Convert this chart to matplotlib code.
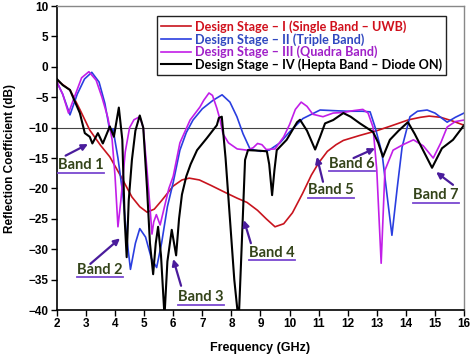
import matplotlib
matplotlib.use("Agg")
import matplotlib.pyplot as plt
from matplotlib.lines import Line2D

# Stage I - single band UWB (red)
f_red = [2.0, 2.45, 2.8, 3.13, 3.5, 3.82, 4.2, 4.58, 4.85, 5.1, 5.35, 5.6, 6.0, 6.3, 6.55,
         6.9, 7.3, 7.85, 8.2, 8.54, 8.9, 9.2, 9.5, 9.8, 10.1, 10.45, 10.75, 11.0, 11.3, 11.6,
         11.85, 12.4, 13.0, 13.5, 14.1, 14.5, 14.8, 15.2, 15.6, 16.0]
s_red = [-2.2, -3.8, -7.1, -10.4, -12.9, -14.8, -18.0, -21.4, -23.0, -23.9, -23.4, -22.0, -19.6, -18.6, -18.3,
         -18.6, -19.5, -20.8, -21.6, -22.3, -23.6, -25.0, -26.3, -25.8, -24.0, -20.8, -17.8, -15.8, -13.9, -12.8,
         -12.1, -11.3, -10.5, -9.7, -8.7, -8.3, -8.1, -8.3, -8.9, -9.6]

# Stage II - triple band (blue)
f_blue = [2.0, 2.2, 2.45, 2.7, 2.95, 3.2, 3.45, 3.65, 3.8, 3.87, 3.93, 4.1, 4.27, 4.4, 4.53,
          4.7, 4.85, 5.05, 5.25, 5.43, 5.6, 5.8, 6.0, 6.23, 6.45, 6.68, 7.0, 7.37, 7.68, 7.95,
          8.19, 8.4, 8.64, 9.0, 9.3, 9.67, 10.0, 10.46, 11.05, 11.5, 11.98, 12.5, 12.77, 12.94, 13.18,
          13.35, 13.52, 13.7, 13.87, 14.14, 14.4, 14.73, 15.0, 15.42, 15.7, 16.0]
s_blue = [-2.5, -4.5, -7.9, -4.5, -2.0, -0.9, -2.5, -6.0, -10.0, -10.6, -10.2, -15.0, -21.0, -28.0, -33.3,
          -29.0, -26.6, -28.0, -31.5, -33.0, -29.0, -23.0, -19.0, -13.7, -10.8, -8.75, -6.9, -5.5, -4.6, -5.8,
          -8.2, -11.0, -13.5, -13.9, -13.7, -12.5, -10.7, -8.5, -7.1, -7.2, -7.3, -7.3, -7.4, -9.9, -14.2,
          -21.0, -27.7, -20.0, -13.2, -8.2, -7.3, -7.1, -7.6, -9.1, -8.3, -7.6]

# Stage III - quadra band (magenta)
f_mag = [2.0, 2.2, 2.4, 2.6, 2.85, 3.1, 3.35, 3.55, 3.75, 3.9, 4.0, 4.1, 4.2, 4.35, 4.5,
         4.65, 4.85, 4.97, 5.1, 5.2, 5.27, 5.33, 5.42, 5.55, 5.7, 5.85, 6.0, 6.23, 6.58, 6.92,
         7.05, 7.23, 7.35, 7.5, 7.6, 7.71, 7.9, 8.2, 8.54, 8.75, 8.9, 9.05, 9.2, 9.5, 9.8,
         10.0, 10.2, 10.4, 10.6, 10.8, 11.15, 11.5, 11.85, 12.2, 12.52, 12.7, 12.87, 13.0, 13.15, 13.28,
         13.56, 13.9, 14.26, 14.6, 14.94, 15.2, 15.42, 15.7, 16.0]
s_mag = [-2.5, -4.5, -7.6, -5.0, -1.8, -0.8, -2.2, -5.0, -8.3, -12.0, -18.0, -26.3, -22.0, -14.0, -10.0,
         -8.7, -8.2, -10.0, -17.0, -23.0, -27.5, -25.5, -24.3, -26.0, -23.0, -20.0, -18.0, -12.5, -8.75, -6.6,
         -5.5, -4.3, -4.7, -6.8, -8.5, -11.0, -12.5, -13.5, -13.7, -13.3, -12.6, -12.8, -13.6, -13.5, -11.5,
         -9.5, -7.0, -5.8, -6.5, -7.8, -8.2, -7.6, -7.5, -7.2, -7.0, -7.6, -9.9, -17.0, -32.3, -17.0,
         -13.7, -12.8, -12.0, -13.0, -15.0, -12.5, -9.9, -9.0, -8.75]

# Stage IV - hepta band, diode ON (black)
f_blk = [2.0, 2.2, 2.45, 2.6, 2.79, 2.96, 3.13, 3.22, 3.41, 3.58, 3.82, 3.96, 4.13, 4.25, 4.33,
         4.4, 4.47, 4.58, 4.7, 4.85, 4.97, 5.1, 5.2, 5.31, 5.4, 5.48, 5.58, 5.7, 5.8, 5.95,
         6.1, 6.2, 6.3, 6.45, 6.6, 6.82, 7.16, 7.5, 7.57, 7.67, 7.8, 7.95, 8.1, 8.25, 8.35,
         8.47, 8.57, 9.0, 9.22, 9.3, 9.4, 9.48, 9.56, 9.9, 10.26, 10.36, 10.6, 10.88, 11.05, 11.22,
         11.5, 11.85, 12.1, 12.42, 12.87, 13.05, 13.21, 13.45, 13.75, 14.07, 14.3, 14.59, 14.9, 15.24, 15.62,
         16.0]
s_blk = [-2.0, -3.0, -3.8, -5.5, -7.6, -10.9, -11.5, -12.6, -10.9, -12.6, -9.8, -11.5, -6.7, -12.0, -25.0,
         -31.3, -22.0, -15.3, -10.5, -8.0, -10.0, -20.0, -29.0, -34.1, -29.0, -26.3, -31.0, -41.0, -32.0, -26.8,
         -31.0, -25.0, -21.0, -18.0, -16.0, -13.7, -11.7, -9.6, -8.4, -8.2, -15.0, -25.0, -35.0, -42.0, -30.0,
         -15.3, -13.7, -13.8, -13.9, -16.0, -21.1, -17.0, -13.7, -12.0, -9.1, -8.7, -10.5, -13.6, -11.5, -9.3,
         -8.75, -7.6, -8.2, -9.3, -10.7, -12.5, -14.8, -12.0, -10.5, -9.1, -11.0, -13.7, -16.6, -13.4, -12.0,
         -9.6]

labels = ["Design Stage \u2013 I (Single Band \u2013 UWB)",
          "Design Stage \u2013 II (Triple Band)",
          "Design Stage \u2013 III (Quadra Band)",
          "Design Stage \u2013 IV (Hepta Band \u2013 Diode ON)"]
colors = ["#c8141e", "#2a3ee0", "#c21ee8", "#000000"]
text_colors = ["#d0101c", "#3048c0", "#a020c8", "#000000"]

# band labels: text position, arrow tail, arrow tip
band_names = ["Band 1", "Band 2", "Band 3", "Band 4", "Band 5", "Band 6", "Band 7"]
band_text_xy = [(2.84, -16.2), (3.48, -33.4), (6.95, -37.9), (9.4, -30.6),
                (11.43, -20.3), (12.15, -15.9), (15.04, -21.1)]
band_tail_xy = [(2.3, -14.6), (3.15, -32.4), (6.27, -36.0), (8.67, -29.0),
                (11.15, -18.9), (12.2, -15.0), (15.62, -19.4)]
band_tip_xy = [(3.07, -12.7), (4.17, -28.2), (6.0, -31.6), (8.43, -25.2),
               (10.94, -14.8), (12.94, -13.4), (15.04, -17.3)]

fig = plt.figure(figsize=(4.74, 3.54), dpi=100)
ax = fig.add_axes([0.120, 0.124, 0.859, 0.859])

series = [(f_red, s_red), (f_blue, s_blue), (f_mag, s_mag), (f_blk, s_blk)]
for (f, s), c, lab in zip(series, colors, labels):
    lw = 1.5 if c == "#000000" else 1.2
    ax.plot(f, s, color=c, lw=lw, label=lab)

ax.axhline(-10, color="#444444", lw=0.8, zorder=0)

ax.set_xlim(2, 16)
ax.set_ylim(-40, 10)
ax.set_xticks(range(2, 17))
ax.set_yticks(range(-40, 11, 5))
ax.tick_params(direction="out", length=4, width=1, labelsize=8.5, pad=2)
for t in ax.get_xticklabels() + ax.get_yticklabels():
    t.set_fontweight("bold")
    t.set_family("Liberation Sans")

for sp in ["left", "bottom"]:
    ax.spines[sp].set_linewidth(1.2)
for sp in ["top", "right"]:
    ax.spines[sp].set_color("#888888")
    ax.spines[sp].set_linewidth(1.0)

ax.set_xlabel("Frequency (GHz)", fontsize=9, fontweight="bold", family="Liberation Sans", labelpad=8)
ax.set_ylabel("Reflection Coefficient (dB)", fontsize=8.5, fontweight="bold", family="Liberation Sans", labelpad=9)

leg = ax.legend(loc="upper right", bbox_to_anchor=(0.955, 0.966), frameon=True, fancybox=False,
                edgecolor="#222222", framealpha=1, borderpad=0.3, labelspacing=0.0,
                handlelength=2.4, handletextpad=0.3, borderaxespad=0,
                prop={"family": "Lato", "weight": "bold", "size": 9.1})
leg.get_frame().set_linewidth(1.0)
for t, tc in zip(leg.get_texts(), text_colors):
    t.set_color(tc)

band_texts = []
for name, txy, tail, tip in zip(band_names, band_text_xy, band_tail_xy, band_tip_xy):
    ax.annotate("", xy=tip, xytext=tail,
                arrowprops=dict(arrowstyle="-|>", color="#4a1c9c", lw=1.6, mutation_scale=9,
                                shrinkA=0, shrinkB=0))
    t = ax.text(txy[0], txy[1], name, ha="center", va="center", color="#34441a",
                fontsize=10.5, fontweight="bold", family="Lato")
    band_texts.append(t)

# underline the band labels
fig.canvas.draw()
r = fig.canvas.get_renderer()
for t in band_texts:
    bb = t.get_window_extent(renderer=r)
    y = bb.y0 - 0.5
    fig.add_artist(Line2D([bb.x0, bb.x1], [y, y], transform=None, color="#7a48d0", lw=1.3))

fig.savefig("out.png", dpi=100)
